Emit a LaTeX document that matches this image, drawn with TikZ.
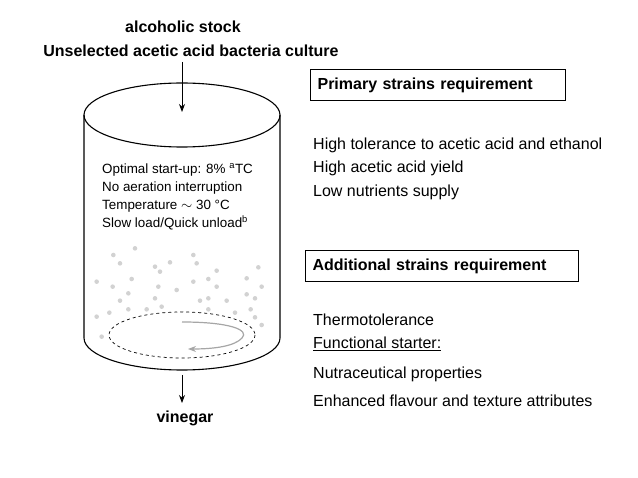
\documentclass[tikz,border=0pt]{standalone}
\usepackage{fontspec}
\setmainfont{Liberation Sans}
\usetikzlibrary{arrows.meta}
\begin{document}
\begin{tikzpicture}[x=1pt,y=-1pt,
  lbl/.style={anchor=west,inner sep=0pt,font=\fontsize{16}{18}\selectfont},
  inlbl/.style={anchor=west,inner sep=0pt,font=\fontsize{13.4}{15}\selectfont},
  hbox/.style={draw,line width=1.2pt,inner xsep=7pt,minimum height=31pt,anchor=west,font=\bfseries\fontsize{16}{18}\selectfont},
  arr/.style={-{Stealth[length=8pt,width=6pt]},line width=0.9pt}]
\useasboundingbox (0,0) rectangle (638,478);
\node[font=\bfseries\fontsize{16}{18}\selectfont] (alc) at (183,27) {alcoholic stock};
\node[font=\bfseries\fontsize{16}{18}\selectfont] (uns) at (191,51) {Unselected acetic acid bacteria culture};
% cylinder
\draw[line width=1.1pt] (84,115) -- (84,338) arc[start angle=180,end angle=0,x radius=98,y radius=32] -- (280,115);
\draw[line width=1.1pt] (182,115) ellipse[x radius=98,y radius=32];
\coordinate (top) at (182,112);
\draw[arr] (182,62) -- (top);
\coordinate (cb) at (182,375);
\node[font=\bfseries\fontsize{16}{18}\selectfont] (vin) at (185,418) {vinegar};
\draw[arr] (cb) -- (182,403);
\node[inlbl] (t1) at (102,170) {Optimal start-up: 8\% $^{\mathrm a}$TC};
\node[inlbl] (t2) at (102,188) {No aeration interruption};
\node[inlbl] (t3) at (102,206) {Temperature $\sim$ 30 °C};
\node[inlbl] (t4) at (102,223) {Slow load/Quick unload$^{\mathrm b}$};
\foreach \x/\y in {100/585,165/565,120/610,225/620,240/635,270/607,340/585,350/610,410/632,535/622,50/665,98/680,155/657,235/680,290/690,340/665,385/657,410/680,500/655,545/680,145/700,120/722,225/715,360/722,385/715,440/722,500/703,525/715,50/770,88/758,145/748,200/748,245/740,385/748,465/758,512/748,525/772,545/795,65/830}
  \fill[gray!35] ({80+\x/3},{60+\y/3}) circle (2.3);
\draw[dashed,line width=0.7pt] (182,335) ellipse[x radius=73,y radius=23];
\draw[gray!70,line width=1.2pt,-{Stealth[length=8pt,width=6pt]}] (182,322) .. controls (230,322) and (250,330) .. (242,338) .. controls (235,346) and (215,349) .. (188,349);
% right side
\node[hbox,minimum width=255pt,align=left,text width=241pt] (p) at (310,85) {Primary strains requirement};
\node[lbl] (r1) at (313,145) {High tolerance to acetic acid and ethanol};
\node[lbl] (r2) at (313,168) {High acetic acid yield};
\node[lbl] (r3) at (313,192) {Low nutrients supply};
\node[hbox,minimum width=273pt,align=left,text width=259pt] (a) at (305,266) {Additional strains requirement};
\node[lbl] (s1) at (313,320) {Thermotolerance};
\node[lbl] (s2) at (313,344) {\underline{Functional starter:}};
\node[lbl] (s3) at (313,374) {Nutraceutical properties};
\node[lbl] (s4) at (313,401) {Enhanced flavour and texture attributes};
\end{tikzpicture}
\end{document}
